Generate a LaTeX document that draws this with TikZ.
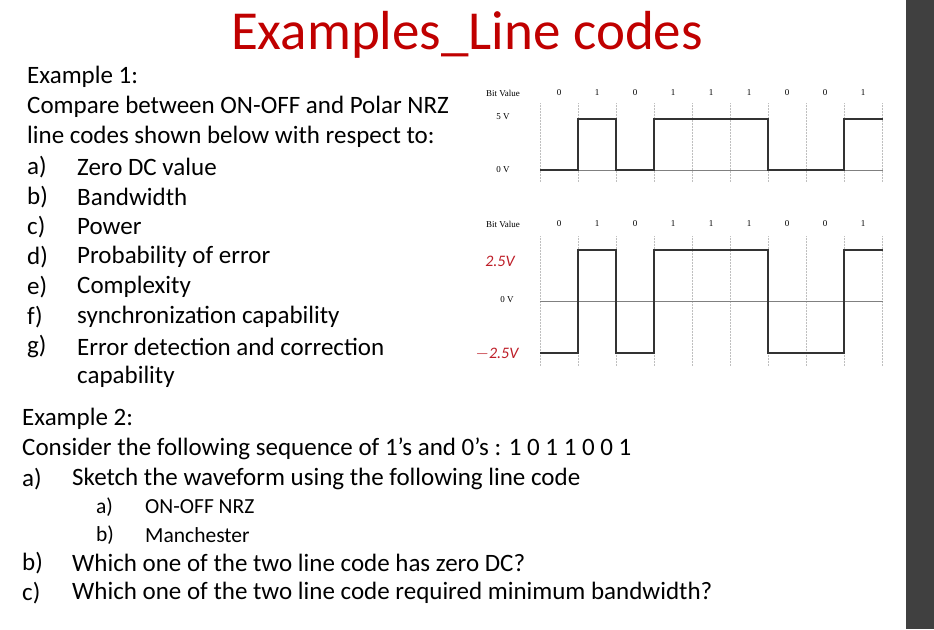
\documentclass[tikz,border=0pt]{standalone}
\usepackage{fontspec}
\setmainfont{Carlito}
\newfontfamily\tnr{Liberation Serif}
\definecolor{ttl}{RGB}{192,0,0}
\definecolor{lbl}{RGB}{190,30,40}
\begin{document}
\begin{tikzpicture}[x=1pt,y=-1pt,
  txt/.style={anchor=west,inner sep=0pt,font=\fontsize{25}{28}\selectfont},
  sub/.style={anchor=west,inner sep=0pt,font=\fontsize{21.5}{24}\selectfont},
  tiny/.style={inner sep=0pt,font=\tnr\fontsize{9}{10}\selectfont},
  red/.style={inner sep=0pt,text=lbl,font=\fontsize{16}{18}\selectfont\itshape},
  grid/.style={gray!50,densely dotted,line width=0.5pt},
  wave/.style={black!80,line width=1.2pt},
  axis/.style={gray,line width=0.7pt}]
\useasboundingbox (0,0) rectangle (934,629);
\fill[white] (0,0) rectangle (934,629);
\fill[black!75] (906,0) rectangle (934,629);
\node[inner sep=0pt,text=ttl,font=\fontsize{55}{60}\selectfont] (title) at (467,35) {Examples\_Line codes};
% Example 1
\node[txt] (e1) at (27,77) {Example 1:};
\node[txt] (e1a) at (27,107) {Compare between ON-OFF and Polar NRZ};
\node[txt] (e1b) at (27,137) {line codes shown below with respect to:};
\foreach \l/\t/\y in {a)/Zero DC value/167,b)/Bandwidth/197,c)/Power/227,d)/Probability of error/257,e)/Complexity/287,f)/synchronization capability/317,g)/Error detection and correction/347}{
  \node[txt] at (27,\y) {\l};
  \node[txt] at (77,\y) {\t};
}
\node[txt] (cap) at (77,377) {capability};
% Example 2
\node[txt] (e2) at (22,419) {Example 2:};
\node[txt] (e2a) at (22,449) {Consider the following sequence of 1’s and 0’s : 1 0 1 1 0 0 1};
\node[txt] at (22,479) {a)};
\node[txt] at (72,479) {Sketch the waveform using the following line code};
\node[sub] at (96,507) {a)};
\node[sub] at (145,507) {ON-OFF NRZ};
\node[sub] at (96,535) {b)};
\node[sub] at (145,535) {Manchester};
\node[txt] at (22,563) {b)};
\node[txt] at (72,563) {Which one of the two line code has zero DC?};
\node[txt] at (22,593) {c)};
\node[txt] at (72,593) {Which one of the two line code required minimum bandwidth?};
% grids
\foreach \i in {0,...,9}{
  \draw[grid] ({540+38*\i},103) -- ({540+38*\i},182);
  \draw[grid] ({540+38*\i},236) -- ({540+38*\i},366);
}
% labels
\node[tiny] (bv1) at (503,93) {Bit Value};
\node[tiny] (bv2) at (503,224) {Bit Value};
\foreach \b [count=\i from 0] in {0,1,0,1,1,1,0,0,1}{
  \node[tiny] at ({559+38*\i},93) {\b};
  \node[tiny] at ({559+38*\i},224) {\b};
}
\node[tiny] (v5) at (503,117) {5 V};
\node[tiny] (v0a) at (503,170) {0 V};
\node[red] (p25) at (500,261) {2.5\textit{V}};
\node[tiny] (v0b) at (507,300) {0 V};
\node[red] (m25) at (497,354) {$-$2.5\textit{V}};
% axes
\draw[axis] (540,170) -- (883,170);
\draw[axis] (540,301) -- (883,301);
% unipolar
\draw[wave] (540,170) -- (578,170) -- (578,119) -- (616,119) -- (616,170) -- (654,170) -- (654,119) -- (768,119) -- (768,170) -- (844,170) -- (844,119) -- (883,119);
% polar
\draw[wave] (540,353) -- (578,353) -- (578,250) -- (616,250) -- (616,353) -- (654,353) -- (654,250) -- (768,250) -- (768,353) -- (844,353) -- (844,250) -- (883,250);
\end{tikzpicture}
\end{document}
